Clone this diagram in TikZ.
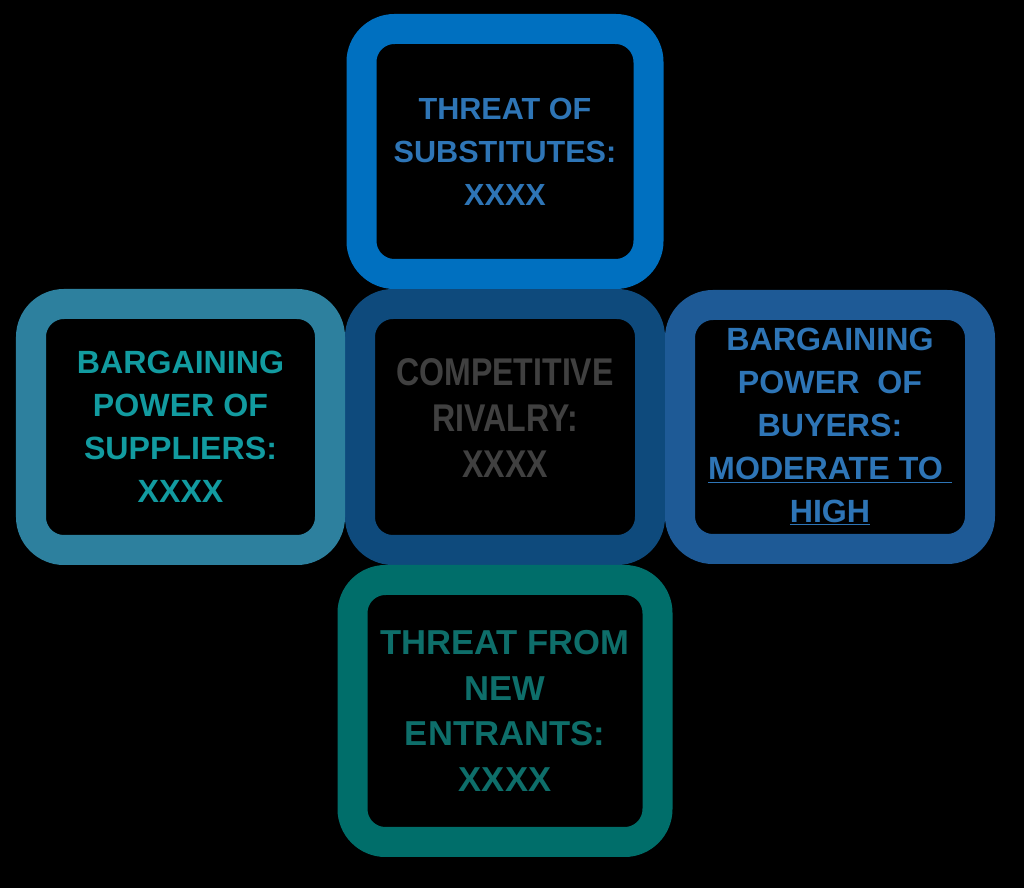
\documentclass[tikz,border=0pt]{standalone}
\usepackage{fontspec}
\setmainfont{Liberation Sans}
\newfontfamily\condfont[FakeStretch=0.83]{Liberation Sans}
\usetikzlibrary{positioning}
\definecolor{subring}{RGB}{0,112,192}
\definecolor{rivring}{RGB}{14,74,124}
\definecolor{supring}{RGB}{45,128,158}
\definecolor{buyring}{RGB}{30,90,150}
\definecolor{entring}{RGB}{0,110,106}
\definecolor{bluetxt}{RGB}{46,117,182}
\definecolor{greytxt}{RGB}{64,64,64}
\definecolor{tealtxt}{RGB}{18,155,160}
\definecolor{darktxt}{RGB}{14,110,106}
\tikzset{
  ring/.style={draw=#1,line width=0.6cm,rounded corners=0.66cm,fill=black,
               align=center,inner sep=0pt},
  sz/.style 2 args={font=\fontsize{#1}{#2}\selectfont\bfseries},
}

\begin{document}
\begin{tikzpicture}[x=1cm, y=1cm, node distance=0cm]
  \fill[black] (0,0) rectangle (20.48,-17.76);
  \useasboundingbox (0,0) rectangle (20.48,-17.76);
  % Rivalry sits in the middle, the four forces round it.
  \node[ring=rivring, minimum width=5.8cm, minimum height=4.92cm,
        text=greytxt, font=\condfont\fontsize{22}{26}\selectfont\bfseries]
       (rival) at (10.10,-8.54) {COMPETITIVE\\RIVALRY:\\XXXX\\[-0.56cm]};
  \node[ring=subring, minimum width=5.74cm, minimum height=4.9cm,
        text=bluetxt, sz={17.4}{24.4}, above=of rival]
       (subst) {THREAT OF\\SUBSTITUTES:\\XXXX};
  \node[ring=supring, minimum width=5.98cm, minimum height=4.92cm,
        text=tealtxt, sz={18.3}{24.4}, left=of rival]
       (suppl) {BARGAINING\\POWER OF\\SUPPLIERS:\\XXXX};
  \node[ring=buyring, minimum width=6cm, minimum height=4.88cm,
        text=bluetxt, sz={18.3}{24.4}, right=of rival]
       (buyer) {BARGAINING\\POWER~~OF\\BUYERS:\\
                \underline{MODERATE TO\ }\\\underline{HIGH}};
  \node[ring=entring, minimum width=6.1cm, minimum height=5.24cm,
        text=darktxt, sz={19.7}{26}, below=of rival]
       (entr) {THREAT FROM\\NEW\\ENTRANTS:\\XXXX};
\end{tikzpicture}
\end{document}
